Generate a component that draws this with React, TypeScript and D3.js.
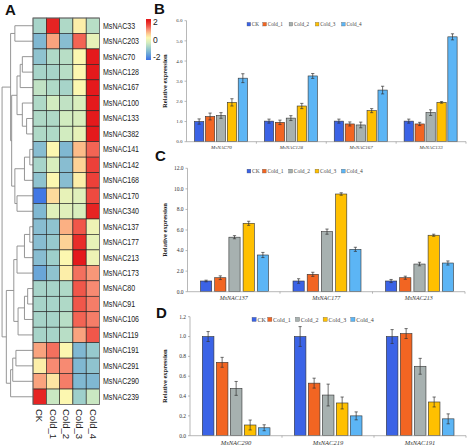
import React from 'react';
import * as d3 from 'd3';

const conditions = ['CK', 'Cold_1', 'Cold_2', 'Cold_3', 'Cold_4'];
const barColors = ['#3b63e6', '#f26522', '#a7b1b0', '#ffc000', '#5cb5f5'];

// heatmap (z-scores per row)
const heatGenes = [
  'MsNAC33', 'MsNAC203', 'MsNAC70', 'MsNAC128', 'MsNAC167', 'MsNAC100', 'MsNAC133', 'MsNAC382',
  'MsNAC141', 'MsNAC142', 'MsNAC168', 'MsNAC170', 'MsNAC340', 'MsNAC137', 'MsNAC177', 'MsNAC213',
  'MsNAC173', 'MsNAC80', 'MsNAC91', 'MsNAC106', 'MsNAC119', 'MsNAC191', 'MsNAC291', 'MsNAC290', 'MsNAC239',
];
const heatValues = [
  [-0.9, 2.1, -0.8, 0.3, -0.7],
  [-1.4, 1.0, -1.3, 1.5, -0.1],
  [-1.2, -0.8, -0.7, 0.2, 2.2],
  [-0.9, -0.9, -0.7, 0.2, 2.2],
  [-0.6, -0.8, -0.9, 0.2, 2.2],
  [-0.8, -0.4, -0.6, -0.3, 2.2],
  [-0.8, -0.8, -0.4, -0.3, 2.2],
  [-0.8, -0.8, -0.4, -0.1, 2.2],
  [-1.3, 0.2, -1.4, 0.8, 1.5],
  [-0.9, -0.3, -1.3, 0.6, 1.8],
  [-1.2, 0.2, -1.3, 0.3, 1.8],
  [-2.3, 0.5, -0.1, -0.2, 1.7],
  [-1.4, -0.2, -0.2, -0.3, 2.1],
  [-1.3, -1.2, 0.9, 1.6, 0.0],
  [-1.3, -1.1, 0.6, 2.0, -0.1],
  [-1.3, -1.0, 0.2, 2.2, 0.0],
  [-1.7, -1.2, 0.3, 1.4, 1.1],
  [-0.9, -0.9, -0.8, 1.6, 1.2],
  [-0.9, -0.9, -0.8, 1.6, 1.3],
  [-0.9, -0.9, -0.7, 1.5, 1.3],
  [-0.9, -0.9, -0.7, 1.0, 1.6],
  [1.0, 1.4, 0.2, -1.4, -1.1],
  [0.3, 1.2, 1.2, -1.4, -1.2],
  [1.0, 0.4, 1.3, -1.4, -1.4],
  [2.1, -0.5, 0.2, -1.0, -0.5],
];
const legendTicks = [2, 0, -2];

// row dendrogram (merge heights)
type TNode = { name?: string; h?: number; children?: TNode[] };
const L = (name: string): TNode => ({ name, h: 0 });
const dendro: TNode = {
  h: 29, children: [
    { h: 21, children: [
      { h: 17, children: [L('MsNAC33'), L('MsNAC203')] },
      { h: 20, children: [
        { h: 15, children: [
          { h: 12, children: [{ h: 10, children: [L('MsNAC70'), L('MsNAC128')] }, L('MsNAC167')] },
          { h: 10, children: [L('MsNAC100'), { h: 6, children: [L('MsNAC133'), L('MsNAC382')] }] },
        ] },
        { h: 17, children: [
          { h: 8, children: [{ h: 3, children: [L('MsNAC141'), L('MsNAC142')] }, L('MsNAC168')] },
          { h: 15, children: [L('MsNAC170'), L('MsNAC340')] },
        ] },
      ] },
    ] },
    { h: 25, children: [
      { h: 18, children: [
        { h: 15, children: [{ h: 8, children: [{ h: 3, children: [L('MsNAC137'), L('MsNAC177')] }, L('MsNAC213')] }, L('MsNAC173')] },
        { h: 14, children: [{ h: 8, children: [{ h: 5, children: [L('MsNAC80'), L('MsNAC91')] }, L('MsNAC106')] }, L('MsNAC119')] },
      ] },
      { h: 21, children: [{ h: 19, children: [{ h: 16, children: [L('MsNAC191'), L('MsNAC291')] }, L('MsNAC290')] }, L('MsNAC239')] },
    ] },
  ],
};

// panel B
const genesB = ['MsNAC70', 'MsNAC128', 'MsNAC167', 'MsNAC133'];
const meansB = [
  [1.0, 1.25, 1.3, 1.95, 3.15],
  [1.02, 0.96, 1.17, 1.77, 3.26],
  [1.02, 0.88, 0.83, 1.54, 2.56],
  [1.02, 0.88, 1.44, 1.95, 5.2],
];
const errorsB = [
  [0.13, 0.17, 0.14, 0.18, 0.22],
  [0.1, 0.11, 0.12, 0.13, 0.12],
  [0.1, 0.1, 0.14, 0.1, 0.19],
  [0.1, 0.08, 0.14, 0.04, 0.15],
];
// panel C
const genesC = ['MsNAC137', 'MsNAC177', 'MsNAC213'];
const meansC = [
  [1.04, 1.36, 5.3, 6.65, 3.57],
  [1.04, 1.69, 5.84, 9.5, 4.12],
  [1.04, 1.36, 2.69, 5.49, 2.79],
];
const errorsC = [
  [0.08, 0.18, 0.15, 0.2, 0.25],
  [0.22, 0.2, 0.25, 0.12, 0.2],
  [0.15, 0.15, 0.17, 0.1, 0.2],
];
// panel D
const genesD = ['MsNAC290', 'MsNAC219', 'MsNAC191'];
const meansD = [
  [1.0, 0.74, 0.477, 0.108, 0.08],
  [1.0, 0.53, 0.41, 0.33, 0.2],
  [1.0, 1.03, 0.7, 0.34, 0.17],
];
const errorsD = [
  [0.05, 0.05, 0.07, 0.05, 0.03],
  [0.1, 0.05, 0.11, 0.06, 0.04],
  [0.07, 0.05, 0.08, 0.05, 0.05],
];

const SANS = 'Liberation Sans, Arial, sans-serif';
const SERIF = 'Liberation Serif, Times New Roman, serif';

const heatColor = d3.scaleLinear<string>()
  .domain([-2.5, -1.7, -1.0, -0.4, 0.2, 0.7, 1.2, 1.7, 2.2])
  .range(['#3468e8', '#6aa6d8', '#9ecfcb', '#d2ecc0', '#fcf7b0', '#fdc98f', '#f78a72', '#ee4a40', '#e41a1c'])
  .clamp(true);

function Heatmap() {
  const x = d3.scaleBand().domain(conditions).range([33, 99.5]);
  const y = d3.scaleBand().domain(heatGenes).range([18, 404.5]);
  const hx = d3.scaleLinear().domain([0, 30]).range([33, 1]);

  const root = d3.hierarchy(dendro);
  const pos = new Map<any, number>();
  root.eachAfter(n => {
    if (!n.children) pos.set(n, (y(n.data.name!) ?? 0) + y.bandwidth() / 2);
    else pos.set(n, (pos.get(n.children[0])! + pos.get(n.children[n.children.length - 1])!) / 2);
  });
  const segs: string[] = [];
  root.each(n => {
    if (!n.children) return;
    const nx = hx(n.data.h!);
    const ys = n.children.map(c => pos.get(c)!);
    segs.push(`M${nx},${d3.min(ys)}V${d3.max(ys)}`);
    n.children.forEach(c => segs.push(`M${nx},${pos.get(c)}H${hx(c.data.h!)}`));
  });

  const cb = d3.scaleLinear().domain([-2.4, 2.4]).range([60, 19]);
  const stops = d3.range(-2.4, 2.41, 0.2);

  return (
    <g>
      <path d={segs.join('')} fill="none" stroke="#8a8a8a" strokeWidth={0.9} />
      {heatGenes.map((g, i) => conditions.map((c, j) => (
        <rect key={g + c} x={x(c)} y={y(g)} width={x.bandwidth()} height={y.bandwidth()}
          fill={heatColor(heatValues[i][j])} stroke="#222" strokeWidth={0.6} />
      )))}
      <rect x={33} y={18} width={66.5} height={386.5} fill="none" stroke="#777" strokeWidth={0.8} />
      {heatGenes.map(g => (
        <text key={g} transform={`translate(103,${(y(g) ?? 0) + y.bandwidth() / 2 + 2.9}) scale(0.85,1)`}
          fontFamily={SANS} fontSize={8.3} fill="#222">{g}</text>
      ))}
      {conditions.map(c => (
        <text key={c} transform={`translate(${(x(c) ?? 0) + x.bandwidth() / 2 - 3.2},409) rotate(90)`}
          fontFamily={SANS} fontSize={9.5} fill="#222">{c}</text>
      ))}
      <defs>
        <linearGradient id="cbar" x1="0" y1="1" x2="0" y2="0">
          {stops.map(s => (
            <stop key={s} offset={(s + 2.4) / 4.8} stopColor={heatColor(s)} />
          ))}
        </linearGradient>
      </defs>
      <rect x={146} y={19} width={5} height={41} fill="url(#cbar)" />
      {legendTicks.map(t => (
        <text key={t} x={153} y={cb(t) + 3} fontFamily={SANS} fontSize={8.5} fill="#222">{t}</text>
      ))}
    </g>
  );
}

type PanelProps = {
  genes: string[]; means: number[][]; errors: number[][];
  x0: number; x1: number; yTop: number; yBottom: number; yMax: number; tickStep: number;
  inner: [number, number]; pad: number; tickFont: number; xFont: number;
  legendX: number; legendY: number; legendFont: number; legendGap: number; titleX: number;
};

function BarPanel(p: PanelProps) {
  const y = d3.scaleLinear().domain([0, p.yMax]).range([p.yBottom, p.yTop]);
  const x = d3.scaleBand().domain(p.genes).range([p.x0, p.x1]);
  const xi = d3.scaleBand().domain(conditions).range(p.inner).paddingInner(p.pad);
  const ticks = d3.range(0, p.yMax + p.tickStep / 2, p.tickStep);
  const fmt = d3.format('.1f');
  const sq = p.legendFont * 0.7;
  let lx = p.legendX;
  const legend = conditions.map(c => {
    const item = { c, x: lx };
    lx += sq + 1.5 + c.length * p.legendFont * 0.5 + p.legendGap;
    return item;
  });
  const cap = 1.6;

  return (
    <g>
      {p.genes.map((g, gi) => conditions.map((c, ci) => {
        const bx = (x(g) ?? 0) + (xi(c) ?? 0);
        const v = p.means[gi][ci];
        const e = p.errors[gi][ci];
        const cx = bx + xi.bandwidth() / 2;
        return (
          <g key={g + c}>
            <rect x={bx} y={y(v)} width={xi.bandwidth()} height={y(0) - y(v)}
              fill={barColors[ci]} stroke="#333" strokeWidth={0.6} />
            <path d={`M${cx},${y(v - e)}V${y(v + e)}M${cx - cap},${y(v + e)}H${cx + cap}M${cx - cap},${y(v - e)}H${cx + cap}`}
              stroke="#333" strokeWidth={0.7} fill="none" />
          </g>
        );
      }))}
      <path d={`M${p.x0},${p.yTop}V${p.yBottom}H${p.x1}`} fill="none" stroke="#999" strokeWidth={0.7} />
      {ticks.map(t => (
        <g key={t}>
          <line x1={p.x0 - 2} x2={p.x0} y1={y(t)} y2={y(t)} stroke="#999" strokeWidth={0.7} />
          <text x={p.x0 - 4} y={y(t) + p.tickFont * 0.35} textAnchor="end" fontFamily={SERIF}
            fontSize={p.tickFont} fill="#333">{fmt(t)}</text>
        </g>
      ))}
      {p.genes.map(g => (
        <g key={g}>
          <line x1={(x(g) ?? 0) + x.bandwidth()} x2={(x(g) ?? 0) + x.bandwidth()} y1={p.yBottom} y2={p.yBottom + 2}
            stroke="#999" strokeWidth={0.7} />
          <text x={(x(g) ?? 0) + x.bandwidth() / 2} y={p.yBottom + p.xFont + 2.5} textAnchor="middle"
            fontFamily={SERIF} fontStyle="italic" fontSize={p.xFont} fill="#333">{g}</text>
        </g>
      ))}
      <text transform={`translate(${p.titleX},${(p.yTop + p.yBottom) / 2}) rotate(-90)`} textAnchor="middle"
        fontFamily={SERIF} fontWeight="bold" fontSize={6.5} fill="#222">Relative expression</text>
      {legend.map((l, i) => (
        <g key={l.c}>
          <rect x={l.x} y={p.legendY - sq} width={sq} height={sq} fill={barColors[i]} stroke="#555" strokeWidth={0.3} />
          <text x={l.x + sq + 1.2} y={p.legendY} fontFamily={SERIF} fontSize={p.legendFont} fill="#444">{l.c}</text>
        </g>
      ))}
    </g>
  );
}

export default function App() {
  return (
    <svg width={474} height={446} style={{ position: 'absolute', left: 0, top: 0, background: '#fff' }}>
      <rect width={474} height={446} fill="#fff" />
      <Heatmap />
      <BarPanel genes={genesB} means={meansB} errors={errorsB} x0={186.5} x1={466} yTop={20.7} yBottom={141.7}
        yMax={6} tickStep={1} inner={[8, 61]} pad={0.15} tickFont={5} xFont={5}
        legendX={247} legendY={26} legendFont={5.2} legendGap={5.5} titleX={167} />
      <BarPanel genes={genesC} means={meansC} errors={errorsC} x0={187.5} x1={465} yTop={168.3} yBottom={291.7}
        yMax={12} tickStep={2} inner={[13, 81]} pad={0.21} tickFont={5.5} xFont={6}
        legendX={247} legendY={173} legendFont={5.5} legendGap={4.5} titleX={167} />
      <BarPanel genes={genesD} means={meansD} errors={errorsD} x0={190} x1={466} yTop={316.7} yBottom={435.7}
        yMax={1.2} tickStep={0.2} inner={[12.3, 80]} pad={0.17} tickFont={5.5} xFont={6.5}
        legendX={252} legendY={321.5} legendFont={6} legendGap={4} titleX={167} />
      <text x={5} y={15} fontFamily={SANS} fontWeight="bold" fontSize={15} fill="#111">A</text>
      <text x={154} y={14} fontFamily={SANS} fontWeight="bold" fontSize={15} fill="#111">B</text>
      <text x={155} y={161} fontFamily={SANS} fontWeight="bold" fontSize={15} fill="#111">C</text>
      <text x={156} y={318} fontFamily={SANS} fontWeight="bold" fontSize={15} fill="#111">D</text>
    </svg>
  );
}
